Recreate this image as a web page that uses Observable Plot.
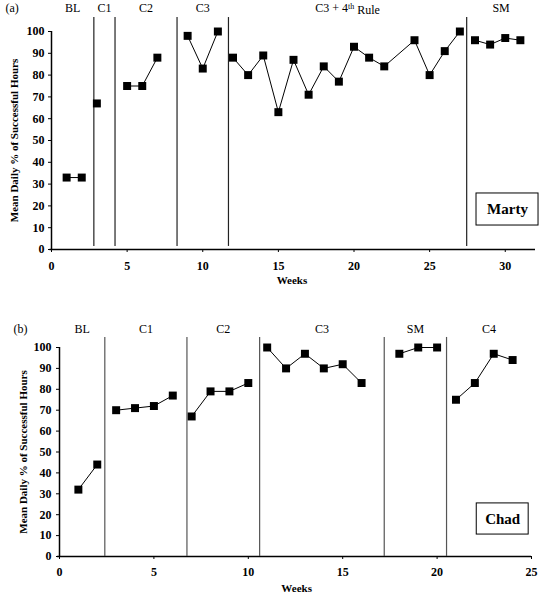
<!DOCTYPE html>
<html>
<head>
<meta charset="utf-8">
<script src="https://cdn.jsdelivr.net/npm/d3@7"></script>
<script src="https://cdn.jsdelivr.net/npm/@observablehq/plot@0.6"></script>
<style>
  html, body { margin: 0; padding: 0; background: #fff; }
  #wrap { width: 539px; }
  svg { display: block; }
</style>
</head>
<body>
<div id="wrap"></div>
<script>
// ---- Marty (a) ----
const martyWeeks  = [1, 2, 3, 5, 6, 7, 9, 10, 11, 12, 13, 14, 15, 16, 17, 18, 19, 20, 21, 22, 24, 25, 26, 27, 28, 29, 30, 31];
const martyValues = [33, 33, 67, 75, 75, 88, 98, 83, 100, 88, 80, 89, 63, 87, 71, 84, 77, 93, 88, 84, 96, 80, 91, 100, 96, 94, 97, 96];
const martyPhaseNames  = ["BL", "C1", "C2", "C3", "C3 + 4th Rule", "SM"];
const martyPhaseBounds = [0, 2.8, 4.2, 8.3, 11.7, 27.45, 32];
const martyTicksX = [0, 5, 10, 15, 20, 25, 30];

// ---- Chad (b) ----
const chadWeeks  = [1, 2, 3, 4, 5, 6, 7, 8, 9, 10, 11, 12, 13, 14, 15, 16, 18, 19, 20, 21, 22, 23, 24];
const chadValues = [32, 44, 70, 71, 72, 77, 67, 79, 79, 83, 100, 90, 97, 90, 92, 83, 97, 100, 100, 75, 83, 97, 94];
const chadPhaseNames  = ["BL", "C1", "C2", "C3", "SM", "C4"];
const chadPhaseBounds = [0, 2.4, 6.75, 10.6, 17.2, 20.5, 25];
const chadTicksX = [0, 5, 10, 15, 20, 25];

const ticksY = [0, 10, 20, 30, 40, 50, 60, 70, 80, 90, 100];
const yLabel = "Mean Daily % of Successful Hours";

function buildRows(weeks, values, bounds) {
  return weeks.map((w, i) => {
    let p = 0;
    while (p < bounds.length - 2 && w > bounds[p + 1]) p++;
    return {week: w, value: values[i], phase: p};
  });
}
function buildPhases(names, bounds) {
  return names.map((n, i) => ({name: n, mid: (bounds[i] + bounds[i + 1]) / 2}));
}

function panel(opts) {
  const rows = buildRows(opts.weeks, opts.values, opts.bounds);
  const phases = buildPhases(opts.names, opts.bounds);
  const inner = opts.bounds.slice(1, -1);
  const font = "'Liberation Serif', 'Times New Roman', serif";
  const chart = Plot.plot({
    width: 539,
    height: opts.height,
    marginLeft: opts.ml,
    marginRight: opts.mr,
    marginTop: opts.mt,
    marginBottom: opts.mb,
    x: {domain: [0, opts.xmax]},
    y: {domain: [0, 100]},
    style: {fontFamily: font, fontSize: "11px", color: "#000", background: "#fff", overflow: "visible"},
    marks: [
      Plot.axisX({ticks: opts.ticksX, tickSize: 3, tickPadding: opts.xpad, fontWeight: "bold", fontSize: 12, label: null, stroke: "#000"}),
      Plot.axisY({ticks: ticksY, tickSize: 3, tickPadding: opts.ypad, fontWeight: "bold", fontSize: 12, label: null, stroke: "#000"}),
      Plot.ruleY([0], {x1: -0.1, x2: opts.xmax, stroke: "#000", strokeWidth: 1.5}),
      Plot.ruleX([0], {y1: 0, y2: 100, stroke: "#000", strokeWidth: 1.5}),
      Plot.ruleX(inner, {y1: opts.ruleBottom, y2: opts.ruleTop, stroke: opts.ruleColor, strokeWidth: 1.2}),
      Plot.line(rows, {x: "week", y: "value", z: "phase", stroke: "#000", strokeWidth: 1}),
      Plot.dot(rows, {x: "week", y: "value", symbol: "square", r: 4.5, fill: "#000", stroke: null}),
      Plot.text(phases, {x: "mid", y: opts.labelY, text: "name", fontSize: 12, fill: "#000"}),
      Plot.text([opts.tag], {x: opts.tagX, y: opts.labelY, text: d => d, fontSize: 12, fill: "#000"}),
      Plot.rect([0], {x1: opts.box[0], x2: opts.box[1], y1: opts.box[2], y2: opts.box[3], fill: "#fff", stroke: "#000", strokeWidth: 1}),
      Plot.text([opts.name], {x: (opts.box[0] + opts.box[1]) / 2, y: (opts.box[2] + opts.box[3]) / 2, text: d => d, fontSize: 15, fontWeight: "bold", fill: "#000"}),
      Plot.text(["Weeks"], {x: opts.weeksX, frameAnchor: "bottom", dy: opts.weeksDy, text: d => d, fontSize: 11, fontWeight: "bold", fill: "#000"}),
      Plot.text([yLabel], {frameAnchor: "left", textAnchor: "middle", dx: opts.yLabelDx, rotate: -90, text: d => d, fontSize: 11, fontWeight: "bold", fill: "#000"})
    ]
  });
  // superscript for "4th"
  d3.select(chart).selectAll("text").each(function() {
    if (this.textContent === "C3 + 4th Rule") {
      const t = d3.select(this);
      t.text(null);
      t.append("tspan").text("C3 + 4");
      t.append("tspan").attr("dy", "-0.45em").attr("font-size", "8px").text("th");
      t.append("tspan").attr("dy", "0.45em").text(" Rule");
    }
  });
  return chart;
}

const wrap = document.getElementById("wrap");
wrap.appendChild(panel({
  weeks: martyWeeks, values: martyValues, names: martyPhaseNames, bounds: martyPhaseBounds,
  ticksX: martyTicksX, xmax: 32, height: 300, ml: 51, mr: 4, mt: 31, mb: 51,
  xpad: 9, ypad: 4, ruleBottom: 1.4, ruleTop: 106.4, ruleColor: "#222", labelY: 110.5,
  tag: "(a)", tagX: -2.6, box: [28.1, 32.2, 25.7, 11.0], name: "Marty",
  weeksX: 15.9, weeksDy: 34, yLabelDx: -37
}));
wrap.appendChild(panel({
  weeks: chadWeeks, values: chadValues, names: chadPhaseNames, bounds: chadPhaseBounds,
  ticksX: chadTicksX, xmax: 25, height: 297, ml: 59, mr: 8, mt: 47, mb: 41,
  xpad: 8, ypad: 5, ruleBottom: 0, ruleTop: 104.8, ruleColor: "#555", labelY: 109,
  tag: "(b)", tagX: -2.07, box: [22.1, 24.85, 25.4, 10.5], name: "Chad",
  weeksX: 12.56, weeksDy: 35, yLabelDx: -36
}));
</script>
</body>
</html>
